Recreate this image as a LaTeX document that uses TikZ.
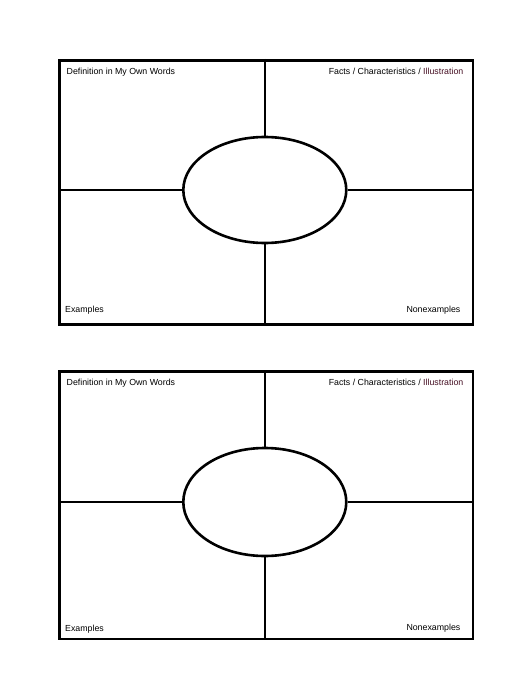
\documentclass[tikz,border=0pt]{standalone}
\usepackage{fontspec}
\setmainfont{Liberation Sans}
\usetikzlibrary{shapes.geometric}
\definecolor{illred}{RGB}{70,15,35}
\tikzset{
  frame/.style={draw=black, line width=2.6bp, minimum width=413.5bp, minimum height=264bp, inner sep=0pt, anchor=north west},
  oval/.style={draw=black, line width=2.6bp, ellipse, minimum width=163bp, minimum height=106bp, inner sep=0pt, fill=white},
  divider/.style={draw=black, line width=2.6bp},
  lbl/.style={font=\fontsize{8.8bp}{10bp}\selectfont, inner sep=0pt, text=black}
}
\begin{document}
\begin{tikzpicture}[x=1bp,y=-1bp]
\useasboundingbox (0,0) rectangle (531,697);
\fill[white] (0,0) rectangle (531,697);
% ---- top sheet ----
\node[frame] (f1) at (58,59) {};
\node[oval] (e1) at (264.8,190) {};
\coordinate (t1) at (264.8,59);
\coordinate (b1) at (264.8,323);
\coordinate (l1) at (58,190);
\coordinate (r1) at (471.5,190);
\draw[divider] (t1) -- (e1.north);
\draw[divider] (e1.south) -- (b1);
\draw[divider] (l1) -- (e1.west);
\draw[divider] (e1.east) -- (r1);
\node[lbl, anchor=base west] (d1) at (66.5,74.5) {Definition in My Own Words};
\node[lbl, anchor=base east] (c1) at (463.5,74.5) {Facts / Characteristics / \textcolor{illred}{Illustration}};
\node[lbl, anchor=base west] (x1) at (65,312) {Examples};
\node[lbl, anchor=base east] (n1) at (460.5,312) {Nonexamples};
% ---- bottom sheet ----
\node[frame, minimum height=267.5bp] (f2) at (58,370) {};
\node[oval, minimum height=108bp] (e2) at (264.8,502) {};
\coordinate (t2) at (264.8,370);
\coordinate (b2) at (264.8,637.5);
\coordinate (l2) at (58,502);
\coordinate (r2) at (471.5,502);
\draw[divider] (t2) -- (e2.north);
\draw[divider] (e2.south) -- (b2);
\draw[divider] (l2) -- (e2.west);
\draw[divider] (e2.east) -- (r2);
\node[lbl, anchor=base west] (d2) at (66.5,385.5) {Definition in My Own Words};
\node[lbl, anchor=base east] (c2) at (463.5,385.5) {Facts / Characteristics / \textcolor{illred}{Illustration}};
\node[lbl, anchor=base west] (x2) at (65,631) {Examples};
\node[lbl, anchor=base east] (n2) at (460.5,630) {Nonexamples};
\end{tikzpicture}
\end{document}
